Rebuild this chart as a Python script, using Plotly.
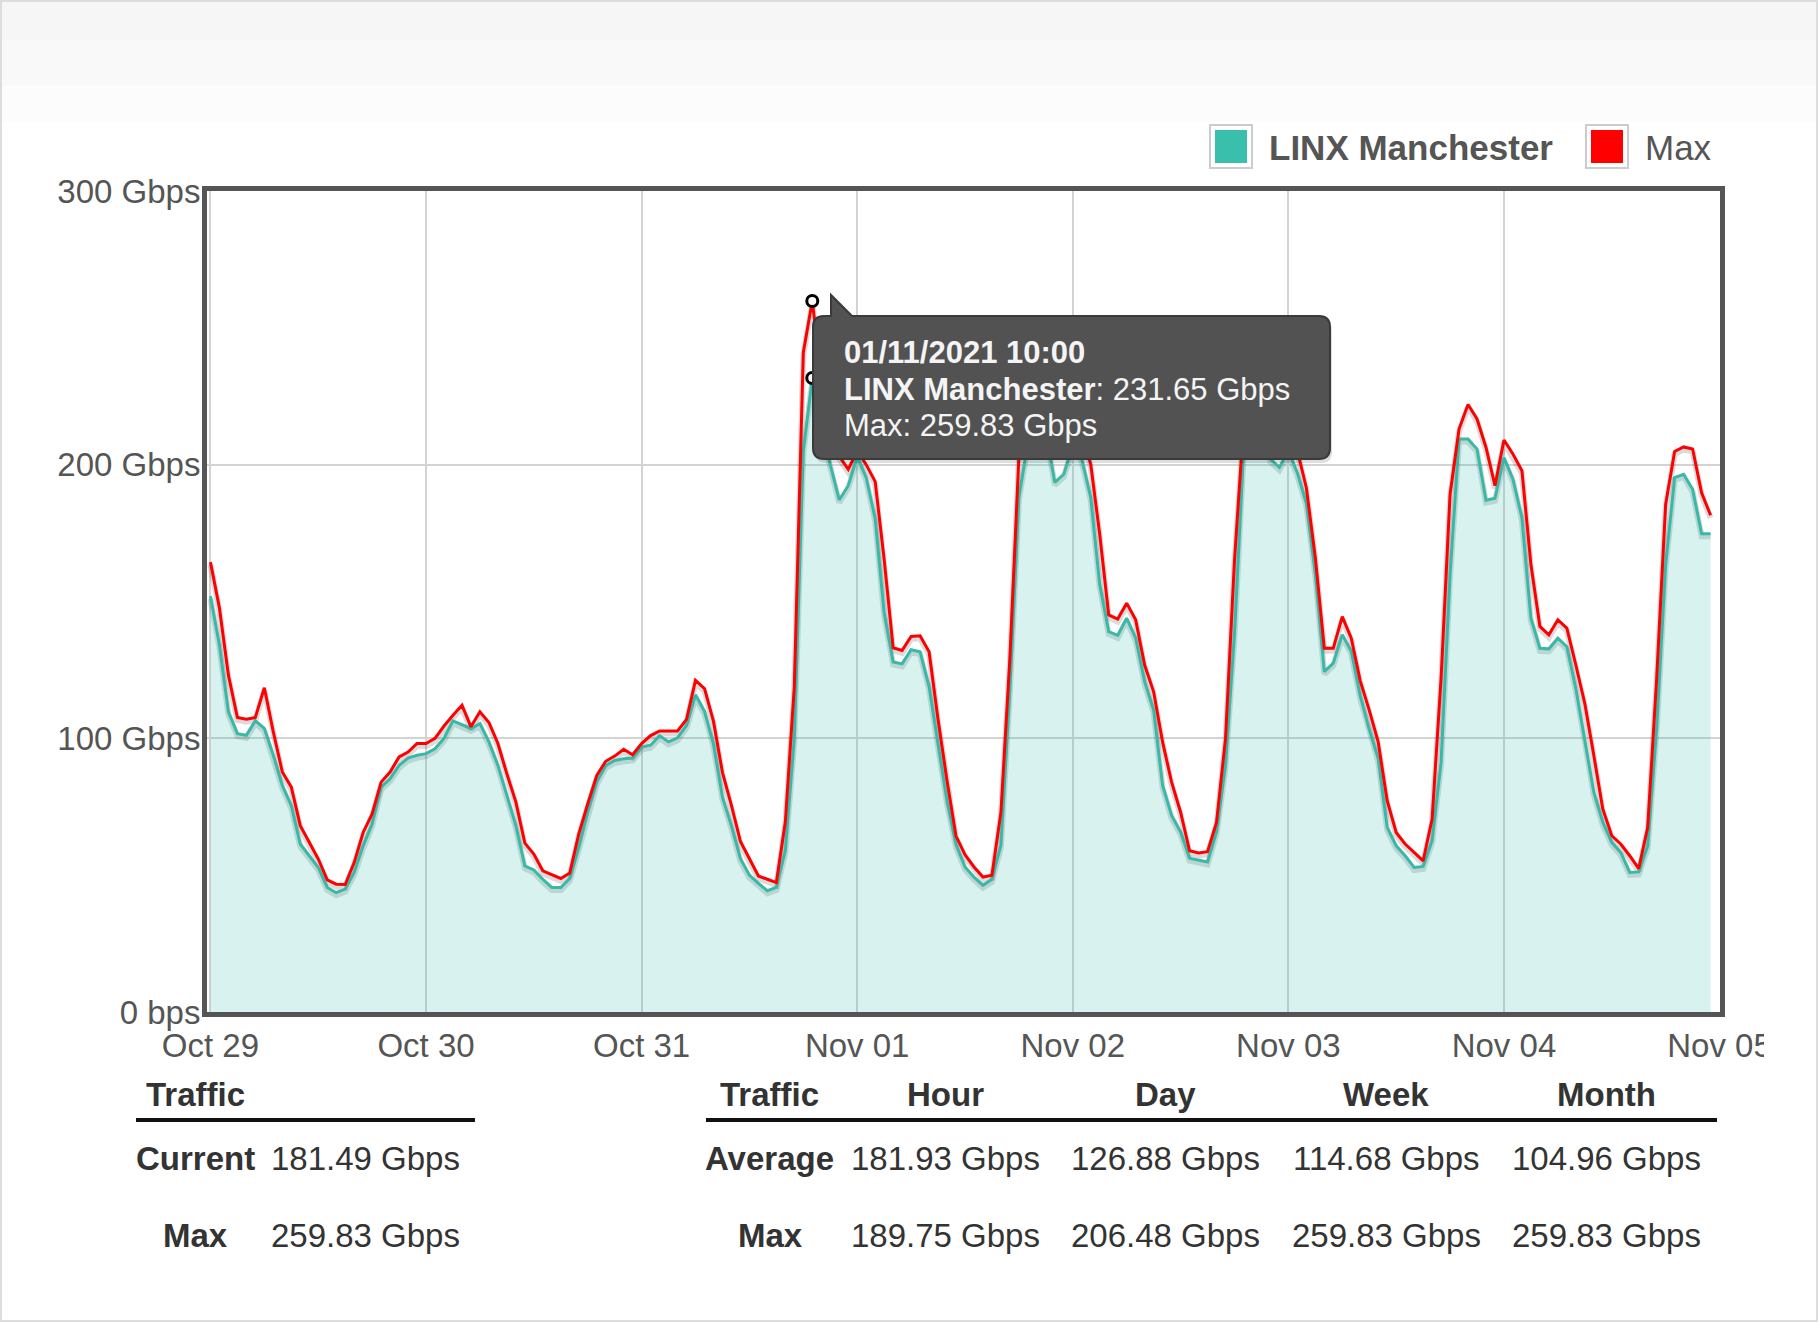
import pandas as pd
import plotly.graph_objects as go

# hourly samples, Oct 29 00:00 -> Nov 04 23:00
start = pd.Timestamp("2021-10-29 00:00")
times = pd.date_range(start, periods=168, freq="h")

# LINX Manchester (Gbps)
linx = [
    151.9, 134.1, 109.7, 101.7, 101.1, 106.4, 103.6, 93.8, 82.8, 75.4, 61.4, 57.1,
    52.8, 45.5, 43.6, 44.9, 51.0, 60.7, 68.7, 82.2, 85.2, 90.1, 92.8, 93.8,
    94.4, 96.2, 100.0, 106.4, 105.0, 103.6, 105.4, 98.7, 90.1, 79.1, 68.1, 53.4,
    51.9, 48.5, 45.5, 45.5, 48.8, 60.1, 73.0, 84.0, 90.1, 91.9, 92.5, 92.8,
    96.8, 97.5, 101.0, 98.7, 100.2, 104.7, 115.9, 109.9, 97.9, 78.5, 68.0, 56.0,
    50.0, 47.0, 44.3, 45.5, 59.0, 100.0, 205.0, 231.65, 214.0, 200.0, 187.1, 192.3,
    202.8, 195.3, 180.3, 145.9, 127.9, 127.2, 132.4, 131.6, 118.9, 97.9, 77.0, 61.2,
    53.0, 49.3, 46.3, 48.5, 61.0, 118.0, 188.0, 208.0, 218.0, 212.0, 193.5, 196.5,
    207.0, 202.0, 188.0, 156.2, 139.0, 137.6, 143.9, 136.6, 120.7, 110.3, 82.8, 71.8,
    65.8, 56.2, 55.4, 54.8, 65.8, 90.1, 138.0, 204.0, 212.0, 210.0, 202.0, 199.0,
    205.0, 197.0, 185.9, 160.2, 124.4, 127.5, 137.9, 131.8, 115.5, 103.3, 92.6, 67.5,
    60.7, 57.1, 52.8, 53.2, 62.6, 91.3, 160.0, 209.4, 209.4, 205.7, 187.0, 187.7,
    202.6, 194.7, 180.6, 143.9, 132.9, 132.7, 136.6, 133.5, 118.2, 99.9, 80.3, 69.3,
    62.0, 58.3, 51.0, 51.2, 60.7, 103.6, 163.5, 195.3, 196.5, 191.0, 174.8, 174.8,
]

# Max (Gbps)
peak = [
    164.4, 147.6, 123.1, 107.6, 107.0, 107.6, 118.5, 102.3, 87.7, 82.2, 68.1, 62.0,
    55.9, 48.3, 46.7, 46.6, 54.6, 65.6, 72.4, 84.0, 87.7, 93.2, 95.0, 98.1,
    98.1, 100.0, 104.5, 108.4, 112.1, 104.2, 109.7, 105.8, 98.1, 87.0, 76.7, 61.7,
    57.7, 51.6, 50.3, 48.8, 50.8, 65.0, 76.0, 86.4, 91.6, 93.5, 96.0, 94.0,
    98.1, 101.0, 102.7, 102.7, 102.7, 106.9, 121.2, 118.2, 106.2, 87.5, 75.5, 62.3,
    56.0, 49.7, 48.5, 47.3, 69.5, 118.9, 241.0, 259.83, 232.0, 214.0, 203.0, 198.3,
    205.0, 200.0, 193.8, 165.4, 133.1, 132.1, 137.2, 137.5, 131.6, 106.9, 84.5, 64.3,
    57.5, 53.0, 49.3, 50.0, 73.0, 129.4, 202.8, 222.0, 232.0, 226.0, 205.0, 212.0,
    220.0, 212.0, 200.0, 174.5, 145.1, 143.6, 149.4, 143.3, 126.8, 117.0, 98.6, 84.0,
    73.0, 58.9, 58.1, 58.6, 69.3, 99.9, 165.0, 214.0, 224.0, 220.0, 208.0, 206.0,
    214.0, 205.0, 191.6, 166.0, 132.9, 132.9, 144.5, 136.6, 121.0, 110.3, 98.6, 77.2,
    65.6, 61.4, 58.3, 55.2, 70.5, 121.9, 189.2, 213.0, 222.0, 216.7, 206.3, 192.3,
    209.0, 203.9, 197.8, 163.5, 140.9, 137.8, 143.3, 140.3, 126.8, 112.7, 93.8, 74.2,
    64.4, 61.4, 57.1, 52.4, 67.5, 121.9, 185.5, 204.8, 206.48, 205.7, 189.75, 181.49,
]

y_ticks = [0, 100, 200, 300]
y_labels = ["0 bps", "100 Gbps", "200 Gbps", "300 Gbps"]
day_ticks = pd.date_range("2021-10-29", "2021-11-05", freq="D")

# hovered point shown in the tooltip
hover_idx = 67
hover_label = "01/11/2021 10:00"

# summary tables
cur_rows = [("Current", "181.49 Gbps"), ("Max", "259.83 Gbps")]
sum_cols = ["Hour", "Day", "Week", "Month"]
sum_avg = ["181.93 Gbps", "126.88 Gbps", "114.68 Gbps", "104.96 Gbps"]
sum_max = ["189.75 Gbps", "206.48 Gbps", "259.83 Gbps", "259.83 Gbps"]

TEAL = "#38b9a7"
RED = "#ff0000"
FONT = "Liberation Sans"

W, H = 1818, 1322
L, R, T, B = 207, 98, 191, 310
PW, PH = W - L - R, H - T - B


def px(x):
    return (x - L) / PW


def py(y):
    return (H - B - y) / PH


def rect(x0, y0, x1, y1, **kw):
    return dict(type="rect", xref="paper", yref="paper",
                x0=px(x0), x1=px(x1), y0=py(y0), y1=py(y1), **kw)


def text(x, y, s, size=33, color="#333333", anchor="center"):
    return dict(x=px(x), y=py(y), xref="paper", yref="paper", text=s,
                showarrow=False, xanchor=anchor, yanchor="middle",
                font=dict(family=FONT, size=size, color=color))


def tip_path(x0, y0, x1, y1, r, dx=0, dy=0):
    pts = lambda x, y: f"{px(x + dx)},{py(y + dy)}"
    return ("M " + pts(x0 + r, y0) + " L " + pts(831, y0) + " L " + pts(831, 295)
            + " L " + pts(852, y0) + " L " + pts(x1 - r, y0)
            + " Q " + pts(x1, y0) + " " + pts(x1, y0 + r)
            + " L " + pts(x1, y1 - r) + " Q " + pts(x1, y1) + " " + pts(x1 - r, y1)
            + " L " + pts(x0 + r, y1) + " Q " + pts(x0, y1) + " " + pts(x0, y1 - r)
            + " L " + pts(x0, y0 + r) + " Q " + pts(x0, y0) + " " + pts(x0 + r, y0) + " Z")


fig = go.Figure()

# invisible trace so the base axes (grid, ticks, frame) get drawn
fig.add_trace(go.Scatter(x=[times[0]], y=[y_ticks[0]], mode="markers",
                         marker=dict(opacity=0), hoverinfo="skip", showlegend=False))

# drop shadows (drawn on a slightly shifted overlay axis)
for ys in (linx, peak):
    fig.add_trace(go.Scatter(x=times, y=ys, yaxis="y2", mode="lines",
                             line=dict(color="rgba(0,0,0,0.14)", width=6),
                             hoverinfo="skip", showlegend=False))

fig.add_trace(go.Scatter(x=times, y=linx, yaxis="y3", mode="lines", name="LINX Manchester",
                         line=dict(color=TEAL, width=3), fill="tozeroy",
                         fillcolor="rgba(59,191,173,0.2)", showlegend=False))
fig.add_trace(go.Scatter(x=times, y=peak, yaxis="y3", mode="lines", name="Max",
                         line=dict(color=RED, width=3), showlegend=False))

# hovered points
fig.add_trace(go.Scatter(x=[times[hover_idx]] * 2, y=[peak[hover_idx], linx[hover_idx]],
                         yaxis="y3", mode="markers", hoverinfo="skip", showlegend=False,
                         marker=dict(size=11, color="white", line=dict(color="black", width=3))))

shapes = [
    rect(0, 0, W, 40, fillcolor="#f6f6f6", line_width=0, layer="below"),
    rect(0, 40, W, 85, fillcolor="#f9f9f9", line_width=0, layer="below"),
    rect(0, 85, W, 122, fillcolor="#fcfcfc", line_width=0, layer="below"),
    # legend boxes
    rect(1210, 125, 1252, 168, fillcolor="white", line=dict(color="#cccccc", width=2)),
    rect(1215, 130, 1247, 163, fillcolor="#3bbfad", line_width=0),
    rect(1586, 125, 1628, 168, fillcolor="white", line=dict(color="#cccccc", width=2)),
    rect(1591, 130, 1623, 163, fillcolor=RED, line_width=0),
    # table rules
    dict(type="line", xref="paper", yref="paper", x0=px(136), x1=px(475), y0=py(1120), y1=py(1120),
         line=dict(color="#111111", width=4)),
    dict(type="line", xref="paper", yref="paper", x0=px(706), x1=px(1717), y0=py(1120), y1=py(1120),
         line=dict(color="#111111", width=4)),
    # tooltip
    dict(type="path", xref="paper", yref="paper", path=tip_path(813, 316, 1330, 459, 11, 2, 4),
         fillcolor="rgba(0,0,0,0.13)", line_width=0, layer="above"),
    dict(type="path", xref="paper", yref="paper", path=tip_path(813, 316, 1330, 459, 11),
         fillcolor="#525252", line=dict(color="#3a3a3a", width=2), layer="above"),
    # chart container cut-off on the right
    rect(1764, 1022, 1815, 1075, fillcolor="white", line_width=0, layer="above"),
    # page frame
    rect(1, 1, W - 1, H - 1, line=dict(color="#dddddd", width=2), layer="above"),
]

annotations = [
    text(1267, 147, "<b>LINX Manchester</b>", size=35, color="#555555", anchor="left"),
    text(1643, 147, "Max", size=35, color="#555555", anchor="left"),
    text(842, 352, f"<b>{hover_label}</b>", size=31, color="#f4f4f4", anchor="left"),
    text(842, 389, f"<b>LINX Manchester</b>: {linx[hover_idx]:.2f} Gbps", size=31,
         color="#f4f4f4", anchor="left"),
    text(842, 425, f"Max: {peak[hover_idx]:.2f} Gbps", size=31, color="#f4f4f4", anchor="left"),
]

# left table
annotations.append(text(195, 1094, "<b>Traffic</b>"))
for row, (lab, val) in zip((1158, 1235), cur_rows):
    annotations.append(text(195, row, f"<b>{lab}</b>"))
    annotations.append(text(365, row, val))

# right table
col_x = [945, 1165, 1386, 1606]
annotations.append(text(769, 1094, "<b>Traffic</b>"))
annotations.append(text(769, 1158, "<b>Average</b>"))
annotations.append(text(770, 1235, "<b>Max</b>"))
for cx, head, a, m in zip(col_x, sum_cols, sum_avg, sum_max):
    annotations.append(text(cx, 1094, f"<b>{head}</b>"))
    annotations.append(text(cx, 1158, a))
    annotations.append(text(cx, 1235, m))

axis_common = dict(showline=True, linecolor="#555555", linewidth=5, mirror=True,
                   showgrid=True, gridcolor="#d3d3d3", gridwidth=2, zeroline=False,
                   ticks="", tickfont=dict(family=FONT, size=33, color="#555555"))

x_range = [start - pd.Timedelta(minutes=23), start + pd.Timedelta(hours=168, minutes=3)]
shift = 2.5 * 300 / PH

fig.update_layout(
    width=W, height=H,
    margin=dict(l=L, r=R, t=T, b=B),
    paper_bgcolor="white", plot_bgcolor="white",
    font=dict(family=FONT),
    xaxis=dict(type="date", range=x_range, tickvals=day_ticks, tickformat="%b %d", **axis_common),
    yaxis=dict(range=[0, 300], tickvals=y_ticks, ticktext=y_labels, ticklabelstandoff=-5,
               **axis_common),
    yaxis2=dict(overlaying="y", range=[shift, 300 + shift], visible=False),
    yaxis3=dict(overlaying="y", range=[0, 300], visible=False),
    shapes=shapes,
    annotations=annotations,
)

fig.write_html("out.html", config={"displayModeBar": False},
               post_script="document.body.style.margin='0px';")
